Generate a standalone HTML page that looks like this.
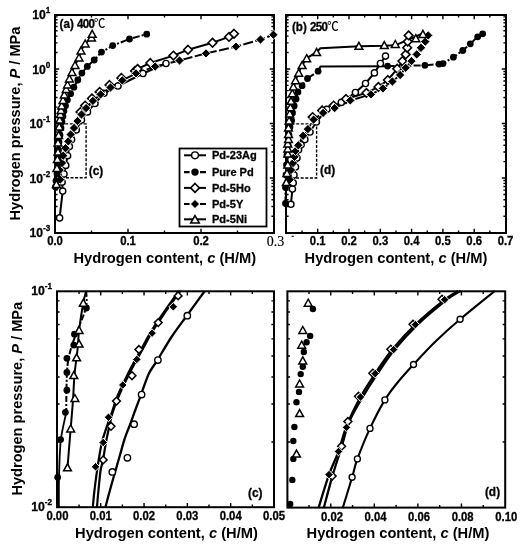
<!DOCTYPE html>
<html><head><meta charset="utf-8"><style>
html,body{margin:0;padding:0;background:#fff;}
svg{display:block;font-family:'Liberation Sans', sans-serif;}
</style></head><body>
<svg width="524" height="550" viewBox="0 0 524 550">
<rect width="524" height="550" fill="#fff"/>
<rect x="55" y="15" width="219.00" height="218.00" fill="none" stroke="#000" stroke-width="2"/>
<rect x="286" y="15" width="220.00" height="218.00" fill="none" stroke="#000" stroke-width="2"/>
<rect x="57" y="291.3" width="217.00" height="215.90" fill="none" stroke="#000" stroke-width="2"/>
<rect x="287.4" y="291.3" width="217.80" height="216.30" fill="none" stroke="#000" stroke-width="2"/>
<path d="M128.00,233v-4.2M128.00,15v4.2M201.00,233v-4.2M201.00,15v4.2M91.50,233v-2.6M91.50,15v2.6M164.50,233v-2.6M164.50,15v2.6M237.50,233v-2.6M237.50,15v2.6M55,216.18h2.6M274,216.18h-2.6M55,206.57h2.6M274,206.57h-2.6M55,199.76h2.6M274,199.76h-2.6M55,194.47h2.6M274,194.47h-2.6M55,190.15h2.6M274,190.15h-2.6M55,186.50h2.6M274,186.50h-2.6M55,183.34h2.6M274,183.34h-2.6M55,180.55h2.6M274,180.55h-2.6M55,178.05h4.2M274,178.05h-4.2M55,161.63h2.6M274,161.63h-2.6M55,152.02h2.6M274,152.02h-2.6M55,145.21h2.6M274,145.21h-2.6M55,139.92h2.6M274,139.92h-2.6M55,135.60h2.6M274,135.60h-2.6M55,131.95h2.6M274,131.95h-2.6M55,128.79h2.6M274,128.79h-2.6M55,126.00h2.6M274,126.00h-2.6M55,123.50h4.2M274,123.50h-4.2M55,107.08h2.6M274,107.08h-2.6M55,97.47h2.6M274,97.47h-2.6M55,90.66h2.6M274,90.66h-2.6M55,85.37h2.6M274,85.37h-2.6M55,81.05h2.6M274,81.05h-2.6M55,77.40h2.6M274,77.40h-2.6M55,74.24h2.6M274,74.24h-2.6M55,71.45h2.6M274,71.45h-2.6M55,68.95h4.2M274,68.95h-4.2M55,52.53h2.6M274,52.53h-2.6M55,42.92h2.6M274,42.92h-2.6M55,36.11h2.6M274,36.11h-2.6M55,30.82h2.6M274,30.82h-2.6M55,26.50h2.6M274,26.50h-2.6M55,22.85h2.6M274,22.85h-2.6M55,19.69h2.6M274,19.69h-2.6M55,16.90h2.6M274,16.90h-2.6" stroke="#000" stroke-width="1.4" fill="none"/>
<path d="M317.70,233v-4.2M317.70,15v4.2M349.00,233v-4.2M349.00,15v4.2M380.30,233v-4.2M380.30,15v4.2M411.60,233v-4.2M411.60,15v4.2M442.90,233v-4.2M442.90,15v4.2M474.20,233v-4.2M474.20,15v4.2M302.05,233v-2.6M302.05,15v2.6M333.35,233v-2.6M333.35,15v2.6M364.65,233v-2.6M364.65,15v2.6M395.95,233v-2.6M395.95,15v2.6M427.25,233v-2.6M427.25,15v2.6M458.55,233v-2.6M458.55,15v2.6M489.85,233v-2.6M489.85,15v2.6M286,216.18h2.6M506,216.18h-2.6M286,206.57h2.6M506,206.57h-2.6M286,199.76h2.6M506,199.76h-2.6M286,194.47h2.6M506,194.47h-2.6M286,190.15h2.6M506,190.15h-2.6M286,186.50h2.6M506,186.50h-2.6M286,183.34h2.6M506,183.34h-2.6M286,180.55h2.6M506,180.55h-2.6M286,178.05h4.2M506,178.05h-4.2M286,161.63h2.6M506,161.63h-2.6M286,152.02h2.6M506,152.02h-2.6M286,145.21h2.6M506,145.21h-2.6M286,139.92h2.6M506,139.92h-2.6M286,135.60h2.6M506,135.60h-2.6M286,131.95h2.6M506,131.95h-2.6M286,128.79h2.6M506,128.79h-2.6M286,126.00h2.6M506,126.00h-2.6M286,123.50h4.2M506,123.50h-4.2M286,107.08h2.6M506,107.08h-2.6M286,97.47h2.6M506,97.47h-2.6M286,90.66h2.6M506,90.66h-2.6M286,85.37h2.6M506,85.37h-2.6M286,81.05h2.6M506,81.05h-2.6M286,77.40h2.6M506,77.40h-2.6M286,74.24h2.6M506,74.24h-2.6M286,71.45h2.6M506,71.45h-2.6M286,68.95h4.2M506,68.95h-4.2M286,52.53h2.6M506,52.53h-2.6M286,42.92h2.6M506,42.92h-2.6M286,36.11h2.6M506,36.11h-2.6M286,30.82h2.6M506,30.82h-2.6M286,26.50h2.6M506,26.50h-2.6M286,22.85h2.6M506,22.85h-2.6M286,19.69h2.6M506,19.69h-2.6M286,16.90h2.6M506,16.90h-2.6" stroke="#000" stroke-width="1.4" fill="none"/>
<path d="M100.72,507.2v-4.2M100.72,291.3v4.2M144.04,507.2v-4.2M144.04,291.3v4.2M187.36,507.2v-4.2M187.36,291.3v4.2M230.68,507.2v-4.2M230.68,291.3v4.2M79.06,507.2v-2.6M79.06,291.3v2.6M122.38,507.2v-2.6M122.38,291.3v2.6M165.70,507.2v-2.6M165.70,291.3v2.6M209.02,507.2v-2.6M209.02,291.3v2.6M252.34,507.2v-2.6M252.34,291.3v2.6M57,441.98h2.6M274,441.98h-2.6M57,403.94h2.6M274,403.94h-2.6M57,376.96h2.6M274,376.96h-2.6M57,356.02h2.6M274,356.02h-2.6M57,338.92h2.6M274,338.92h-2.6M57,324.46h2.6M274,324.46h-2.6M57,311.93h2.6M274,311.93h-2.6M57,300.88h2.6M274,300.88h-2.6" stroke="#000" stroke-width="1.4" fill="none"/>
<path d="M330.76,507.6v-4.2M330.76,291.3v4.2M374.32,507.6v-4.2M374.32,291.3v4.2M417.88,507.6v-4.2M417.88,291.3v4.2M461.44,507.6v-4.2M461.44,291.3v4.2M308.98,507.6v-2.6M308.98,291.3v2.6M352.54,507.6v-2.6M352.54,291.3v2.6M396.10,507.6v-2.6M396.10,291.3v2.6M439.66,507.6v-2.6M439.66,291.3v2.6M483.22,507.6v-2.6M483.22,291.3v2.6M287.4,441.98h2.6M505.2,441.98h-2.6M287.4,403.94h2.6M505.2,403.94h-2.6M287.4,376.96h2.6M505.2,376.96h-2.6M287.4,356.02h2.6M505.2,356.02h-2.6M287.4,338.92h2.6M505.2,338.92h-2.6M287.4,324.46h2.6M505.2,324.46h-2.6M287.4,311.93h2.6M505.2,311.93h-2.6M287.4,300.88h2.6M505.2,300.88h-2.6" stroke="#000" stroke-width="1.4" fill="none"/>
<text transform="translate(55.00,244.60) scale(0.9,1)" font-size="12.6" text-anchor="middle" font-weight="bold" stroke="#000" stroke-width="0.3">0.0</text>
<text transform="translate(128.00,244.60) scale(0.9,1)" font-size="12.6" text-anchor="middle" font-weight="bold" stroke="#000" stroke-width="0.3">0.1</text>
<text transform="translate(201.00,244.60) scale(0.9,1)" font-size="12.6" text-anchor="middle" font-weight="bold" stroke="#000" stroke-width="0.3">0.2</text>
<text x="275.4" y="245.7" font-size="14" text-anchor="middle" font-family="'Liberation Serif', serif" stroke="#000" stroke-width="0.15">0.3</text>
<text transform="translate(317.70,244.60) scale(0.9,1)" font-size="12.6" text-anchor="middle" font-weight="bold" stroke="#000" stroke-width="0.3">0.1</text>
<text transform="translate(349.00,244.60) scale(0.9,1)" font-size="12.6" text-anchor="middle" font-weight="bold" stroke="#000" stroke-width="0.3">0.2</text>
<text transform="translate(380.30,244.60) scale(0.9,1)" font-size="12.6" text-anchor="middle" font-weight="bold" stroke="#000" stroke-width="0.3">0.3</text>
<text transform="translate(411.60,244.60) scale(0.9,1)" font-size="12.6" text-anchor="middle" font-weight="bold" stroke="#000" stroke-width="0.3">0.4</text>
<text transform="translate(442.90,244.60) scale(0.9,1)" font-size="12.6" text-anchor="middle" font-weight="bold" stroke="#000" stroke-width="0.3">0.5</text>
<text transform="translate(474.20,244.60) scale(0.9,1)" font-size="12.6" text-anchor="middle" font-weight="bold" stroke="#000" stroke-width="0.3">0.6</text>
<text transform="translate(505.50,244.60) scale(0.9,1)" font-size="12.6" text-anchor="middle" font-weight="bold" stroke="#000" stroke-width="0.3">0.7</text>
<path d="M291.5,236.3h2.4" stroke="#000" stroke-width="1"/>
<text transform="translate(57.40,520.20) scale(0.9,1)" font-size="12.6" text-anchor="middle" font-weight="bold" stroke="#000" stroke-width="0.3">0.00</text>
<text transform="translate(100.72,520.20) scale(0.9,1)" font-size="12.6" text-anchor="middle" font-weight="bold" stroke="#000" stroke-width="0.3">0.01</text>
<text transform="translate(144.04,520.20) scale(0.9,1)" font-size="12.6" text-anchor="middle" font-weight="bold" stroke="#000" stroke-width="0.3">0.02</text>
<text transform="translate(187.36,520.20) scale(0.9,1)" font-size="12.6" text-anchor="middle" font-weight="bold" stroke="#000" stroke-width="0.3">0.03</text>
<text transform="translate(230.68,520.20) scale(0.9,1)" font-size="12.6" text-anchor="middle" font-weight="bold" stroke="#000" stroke-width="0.3">0.04</text>
<text transform="translate(274.00,520.20) scale(0.9,1)" font-size="12.6" text-anchor="middle" font-weight="bold" stroke="#000" stroke-width="0.3">0.05</text>
<text transform="translate(331.96,520.80) scale(0.9,1)" font-size="12.6" text-anchor="middle" font-weight="bold" stroke="#000" stroke-width="0.3">0.02</text>
<text transform="translate(375.52,520.80) scale(0.9,1)" font-size="12.6" text-anchor="middle" font-weight="bold" stroke="#000" stroke-width="0.3">0.04</text>
<text transform="translate(419.08,520.80) scale(0.9,1)" font-size="12.6" text-anchor="middle" font-weight="bold" stroke="#000" stroke-width="0.3">0.06</text>
<text transform="translate(462.64,520.80) scale(0.9,1)" font-size="12.6" text-anchor="middle" font-weight="bold" stroke="#000" stroke-width="0.3">0.08</text>
<text transform="translate(506.20,520.80) scale(0.9,1)" font-size="12.6" text-anchor="middle" font-weight="bold" stroke="#000" stroke-width="0.3">0.10</text>
<text transform="translate(50.30,237.20) scale(0.97,1)" font-size="12.6" text-anchor="end" font-weight="bold" stroke="#000" stroke-width="0.3">10<tspan font-size="8.4" dy="-6">-3</tspan></text>
<text transform="translate(50.30,182.65) scale(0.97,1)" font-size="12.6" text-anchor="end" font-weight="bold" stroke="#000" stroke-width="0.3">10<tspan font-size="8.4" dy="-6">-2</tspan></text>
<text transform="translate(50.30,128.10) scale(0.97,1)" font-size="12.6" text-anchor="end" font-weight="bold" stroke="#000" stroke-width="0.3">10<tspan font-size="8.4" dy="-6">-1</tspan></text>
<text transform="translate(50.30,73.55) scale(0.97,1)" font-size="12.6" text-anchor="end" font-weight="bold" stroke="#000" stroke-width="0.3">10<tspan font-size="8.4" dy="-6">0</tspan></text>
<text transform="translate(50.30,19.00) scale(0.97,1)" font-size="12.6" text-anchor="end" font-weight="bold" stroke="#000" stroke-width="0.3">10<tspan font-size="8.4" dy="-6">1</tspan></text>
<text transform="translate(52.00,510.80) scale(0.97,1)" font-size="12.6" text-anchor="end" font-weight="bold" stroke="#000" stroke-width="0.3">10<tspan font-size="8.4" dy="-6">-2</tspan></text>
<text transform="translate(52.00,294.80) scale(0.97,1)" font-size="12.6" text-anchor="end" font-weight="bold" stroke="#000" stroke-width="0.3">10<tspan font-size="8.4" dy="-6">-1</tspan></text>
<text x="164.80" y="263.2" font-size="14.7" text-anchor="middle" font-weight="bold">Hydrogen content, <tspan font-style="italic">c</tspan> (H/M)</text>
<text x="396.00" y="263.2" font-size="14.7" text-anchor="middle" font-weight="bold">Hydrogen content, <tspan font-style="italic">c</tspan> (H/M)</text>
<text x="166.50" y="537.7" font-size="14.7" text-anchor="middle" font-weight="bold">Hydrogen content, <tspan font-style="italic">c</tspan> (H/M)</text>
<text x="398.00" y="537.7" font-size="14.7" text-anchor="middle" font-weight="bold">Hydrogen content, <tspan font-style="italic">c</tspan> (H/M)</text>
<text transform="translate(20.2,123.50) rotate(-90)" font-size="14.6" text-anchor="middle" font-weight="bold">Hydrogen pressure, <tspan font-style="italic">P</tspan> / MPa</text>
<text transform="translate(21.5,398.70) rotate(-90)" font-size="14.6" text-anchor="middle" font-weight="bold">Hydrogen pressure, <tspan font-style="italic">P</tspan> / MPa</text>
<text transform="translate(59.60,28.00) scale(0.92,1)" font-size="12.6" text-anchor="start" font-weight="bold" stroke="#000" stroke-width="0.3">(a) <tspan letter-spacing="-0.8">400</tspan><tspan font-family="'Liberation Sans', 'Noto Sans CJK SC', sans-serif" font-weight="500" stroke-width="0" font-size="12.3">℃</tspan></text>
<text transform="translate(292.00,30.50) scale(0.92,1)" font-size="12.6" text-anchor="start" font-weight="bold" stroke="#000" stroke-width="0.3">(b) <tspan letter-spacing="-0.8">250</tspan><tspan font-family="'Liberation Sans', 'Noto Sans CJK SC', sans-serif" font-weight="500" stroke-width="0" font-size="12.3">℃</tspan></text>
<path d="M56,123.9H86.1V177.8H56" fill="none" stroke="#000" stroke-width="1.4" stroke-dasharray="3,1.6"/>
<path d="M287,123.9H316.6V178H287" fill="none" stroke="#000" stroke-width="1.4" stroke-dasharray="3,1.6"/>
<text transform="translate(96.00,174.50) scale(0.95,1)" font-size="12.5" text-anchor="middle" font-weight="bold" stroke="#000" stroke-width="0.3">(c)</text>
<text transform="translate(327.70,174.00) scale(0.95,1)" font-size="12.5" text-anchor="middle" font-weight="bold" stroke="#000" stroke-width="0.3">(d)</text>
<text transform="translate(255.30,496.50) scale(0.95,1)" font-size="12.5" text-anchor="middle" font-weight="bold" stroke="#000" stroke-width="0.3">(c)</text>
<text transform="translate(492.50,495.50) scale(0.95,1)" font-size="12.5" text-anchor="middle" font-weight="bold" stroke="#000" stroke-width="0.3">(d)</text>
<polyline points="59.6,217.9 62.7,191.1 62.1,182.2 64.0,174.0 65.8,165.4 67.6,155.7 69.4,146.5 71.6,139.6 76.3,129.9 81.5,120.0 87.5,111.9 95.0,103.5 104.0,93.3 118.0,86.0 143.0,73.5 166.0,63.5" fill="none" stroke="#000" stroke-width="2" stroke-linejoin="round"/>
<polyline points="135.0,70.9 137.6,68.9 150.3,63.0 173.4,55.6 188.0,49.8 212.5,42.7 229.0,36.9 234.0,33.8" fill="none" stroke="#000" stroke-width="2" stroke-linejoin="round"/>
<polyline points="60.2,179.6 59.7,170.0 62.0,163.0 63.2,155.7 65.5,148.2 68.3,141.3 70.6,134.5 74.0,128.0 77.5,121.0 81.5,114.5 86.1,108.1 92.9,100.9 100.6,94.4 110.5,87.5 122.3,80.4 136.0,73.4 155.2,66.5 179.5,60.5 206.0,53.4 236.0,46.6 260.5,39.5 273.4,34.7" fill="none" stroke="#000" stroke-width="2" stroke-linejoin="round" stroke-dasharray="10,2.5"/>
<polyline points="55.5,187.0 56.0,181.0 57.0,174.0 57.5,166.0 58.0,158.0 58.5,150.0 59.0,142.0 60.0,135.0 61.0,128.0 62.0,122.0 62.9,116.5 63.9,111.1 65.5,105.8 67.4,100.0 70.6,93.7 73.9,87.2 77.8,80.0 81.9,73.1 87.3,66.4 94.2,60.0 101.5,52.1 112.7,45.6 129.5,39.0 146.7,34.2" fill="none" stroke="#000" stroke-width="2" stroke-linejoin="round" stroke-dasharray="7,2,2,2"/>
<polyline points="56.4,184.0 56.9,168.0 57.4,159.0 58.0,151.6 58.0,142.5 58.6,135.0 59.2,126.5 59.7,119.6 60.3,114.0 61.0,110.0 61.7,105.5 63.0,100.0 64.3,94.5 66.2,89.0 67.5,84.5 69.4,78.5 72.0,72.0 75.0,65.0 79.0,57.5 81.0,50.5 85.2,43.5 91.5,37.5 92.2,33.8" fill="none" stroke="#000" stroke-width="2" stroke-linejoin="round"/>
<circle cx="59.6" cy="217.9" r="3.1" fill="#fff" stroke="#000" stroke-width="1.4"/><circle cx="62.7" cy="191.1" r="3.1" fill="#fff" stroke="#000" stroke-width="1.4"/><circle cx="62.1" cy="182.2" r="3.1" fill="#fff" stroke="#000" stroke-width="1.4"/><circle cx="64.0" cy="174.0" r="3.1" fill="#fff" stroke="#000" stroke-width="1.4"/><circle cx="65.8" cy="165.4" r="3.1" fill="#fff" stroke="#000" stroke-width="1.4"/><circle cx="67.6" cy="155.7" r="3.1" fill="#fff" stroke="#000" stroke-width="1.4"/><circle cx="69.4" cy="146.5" r="3.1" fill="#fff" stroke="#000" stroke-width="1.4"/><circle cx="71.6" cy="139.6" r="3.1" fill="#fff" stroke="#000" stroke-width="1.4"/><circle cx="76.3" cy="129.9" r="3.1" fill="#fff" stroke="#000" stroke-width="1.4"/><circle cx="81.5" cy="120.0" r="3.1" fill="#fff" stroke="#000" stroke-width="1.4"/><circle cx="87.5" cy="111.9" r="3.1" fill="#fff" stroke="#000" stroke-width="1.4"/><circle cx="95.0" cy="103.5" r="3.1" fill="#fff" stroke="#000" stroke-width="1.4"/><circle cx="104.0" cy="93.3" r="3.1" fill="#fff" stroke="#000" stroke-width="1.4"/><circle cx="118.0" cy="86.0" r="3.1" fill="#fff" stroke="#000" stroke-width="1.4"/><circle cx="143.0" cy="73.5" r="3.1" fill="#fff" stroke="#000" stroke-width="1.4"/><circle cx="166.0" cy="63.5" r="3.1" fill="#fff" stroke="#000" stroke-width="1.4"/>
<path d="M80.5,107.7L84.8,112.0L80.5,116.3L76.2,112.0Z" fill="#fff" stroke="#000" stroke-width="1.6"/><path d="M85.1,101.3L89.4,105.6L85.1,109.9L80.8,105.6Z" fill="#fff" stroke="#000" stroke-width="1.6"/><path d="M91.9,94.1L96.2,98.4L91.9,102.7L87.6,98.4Z" fill="#fff" stroke="#000" stroke-width="1.6"/><path d="M99.6,87.6L103.9,91.9L99.6,96.2L95.3,91.9Z" fill="#fff" stroke="#000" stroke-width="1.6"/><path d="M109.5,80.7L113.8,85.0L109.5,89.3L105.2,85.0Z" fill="#fff" stroke="#000" stroke-width="1.6"/><path d="M121.3,73.6L125.6,77.9L121.3,82.2L117.0,77.9Z" fill="#fff" stroke="#000" stroke-width="1.6"/><path d="M135.0,66.6L139.3,70.9L135.0,75.2L130.7,70.9Z" fill="#fff" stroke="#000" stroke-width="1.6"/><path d="M137.6,64.6L141.9,68.9L137.6,73.2L133.3,68.9Z" fill="#fff" stroke="#000" stroke-width="1.6"/><path d="M150.3,58.7L154.6,63.0L150.3,67.3L146.0,63.0Z" fill="#fff" stroke="#000" stroke-width="1.6"/><path d="M173.4,51.3L177.7,55.6L173.4,59.9L169.1,55.6Z" fill="#fff" stroke="#000" stroke-width="1.6"/><path d="M188.0,45.5L192.3,49.8L188.0,54.1L183.7,49.8Z" fill="#fff" stroke="#000" stroke-width="1.6"/><path d="M212.5,38.4L216.8,42.7L212.5,47.0L208.2,42.7Z" fill="#fff" stroke="#000" stroke-width="1.6"/><path d="M229.0,32.6L233.3,36.9L229.0,41.2L224.7,36.9Z" fill="#fff" stroke="#000" stroke-width="1.6"/><path d="M234.0,29.5L238.3,33.8L234.0,38.1L229.7,33.8Z" fill="#fff" stroke="#000" stroke-width="1.6"/>
<path d="M60.2,174.9L64.9,179.6L60.2,184.3L55.5,179.6Z" fill="#000" stroke="#fff" stroke-width="1.0"/><path d="M59.7,165.3L64.4,170.0L59.7,174.7L55.0,170.0Z" fill="#000" stroke="#fff" stroke-width="1.0"/><path d="M62.0,158.3L66.7,163.0L62.0,167.7L57.3,163.0Z" fill="#000" stroke="#fff" stroke-width="1.0"/><path d="M63.2,151.0L67.9,155.7L63.2,160.4L58.5,155.7Z" fill="#000" stroke="#fff" stroke-width="1.0"/><path d="M65.5,143.5L70.2,148.2L65.5,152.9L60.8,148.2Z" fill="#000" stroke="#fff" stroke-width="1.0"/><path d="M68.3,136.6L73.0,141.3L68.3,146.0L63.6,141.3Z" fill="#000" stroke="#fff" stroke-width="1.0"/><path d="M70.6,129.8L75.3,134.5L70.6,139.2L65.9,134.5Z" fill="#000" stroke="#fff" stroke-width="1.0"/><path d="M74.0,123.3L78.7,128.0L74.0,132.7L69.3,128.0Z" fill="#000" stroke="#fff" stroke-width="1.0"/><path d="M77.5,116.3L82.2,121.0L77.5,125.7L72.8,121.0Z" fill="#000" stroke="#fff" stroke-width="1.0"/><path d="M81.5,109.8L86.2,114.5L81.5,119.2L76.8,114.5Z" fill="#000" stroke="#fff" stroke-width="1.0"/><path d="M86.1,103.4L90.8,108.1L86.1,112.8L81.4,108.1Z" fill="#000" stroke="#fff" stroke-width="1.0"/><path d="M92.9,96.2L97.6,100.9L92.9,105.6L88.2,100.9Z" fill="#000" stroke="#fff" stroke-width="1.0"/><path d="M100.6,89.7L105.3,94.4L100.6,99.1L95.9,94.4Z" fill="#000" stroke="#fff" stroke-width="1.0"/><path d="M110.5,82.8L115.2,87.5L110.5,92.2L105.8,87.5Z" fill="#000" stroke="#fff" stroke-width="1.0"/><path d="M122.3,75.7L127.0,80.4L122.3,85.1L117.6,80.4Z" fill="#000" stroke="#fff" stroke-width="1.0"/><path d="M136.0,68.7L140.7,73.4L136.0,78.1L131.3,73.4Z" fill="#000" stroke="#fff" stroke-width="1.0"/><path d="M155.2,61.8L159.9,66.5L155.2,71.2L150.5,66.5Z" fill="#000" stroke="#fff" stroke-width="1.0"/><path d="M179.5,55.8L184.2,60.5L179.5,65.2L174.8,60.5Z" fill="#000" stroke="#fff" stroke-width="1.0"/><path d="M206.0,48.7L210.7,53.4L206.0,58.1L201.3,53.4Z" fill="#000" stroke="#fff" stroke-width="1.0"/><path d="M236.0,41.9L240.7,46.6L236.0,51.3L231.3,46.6Z" fill="#000" stroke="#fff" stroke-width="1.0"/><path d="M260.5,34.8L265.2,39.5L260.5,44.2L255.8,39.5Z" fill="#000" stroke="#fff" stroke-width="1.0"/><path d="M273.4,30.0L278.1,34.7L273.4,39.4L268.7,34.7Z" fill="#000" stroke="#fff" stroke-width="1.0"/>
<circle cx="55.5" cy="187.0" r="3.4" fill="#000"/><circle cx="56.0" cy="181.0" r="3.4" fill="#000"/><circle cx="57.0" cy="174.0" r="3.4" fill="#000"/><circle cx="57.5" cy="166.0" r="3.4" fill="#000"/><circle cx="58.0" cy="158.0" r="3.4" fill="#000"/><circle cx="58.5" cy="150.0" r="3.4" fill="#000"/><circle cx="59.0" cy="142.0" r="3.4" fill="#000"/><circle cx="60.0" cy="135.0" r="3.4" fill="#000"/><circle cx="61.0" cy="128.0" r="3.4" fill="#000"/><circle cx="62.0" cy="122.0" r="3.4" fill="#000"/><circle cx="62.9" cy="116.5" r="3.4" fill="#000"/><circle cx="63.9" cy="111.1" r="3.4" fill="#000"/><circle cx="65.5" cy="105.8" r="3.4" fill="#000"/><circle cx="67.4" cy="100.0" r="3.4" fill="#000"/><circle cx="70.6" cy="93.7" r="3.4" fill="#000"/><circle cx="73.9" cy="87.2" r="3.4" fill="#000"/><circle cx="77.8" cy="80.0" r="3.4" fill="#000"/><circle cx="81.9" cy="73.1" r="3.4" fill="#000"/><circle cx="87.3" cy="66.4" r="3.4" fill="#000"/><circle cx="94.2" cy="60.0" r="3.4" fill="#000"/><circle cx="101.5" cy="52.1" r="3.4" fill="#000"/><circle cx="112.7" cy="45.6" r="3.4" fill="#000"/><circle cx="129.5" cy="39.0" r="3.4" fill="#000"/><circle cx="146.7" cy="34.2" r="3.4" fill="#000"/>
<path d="M56.4,180.5L60.3,187.5L52.5,187.5Z" fill="#fff" stroke="#000" stroke-width="1.5" stroke-linejoin="miter"/><path d="M56.9,164.5L60.8,171.5L53.0,171.5Z" fill="#fff" stroke="#000" stroke-width="1.5" stroke-linejoin="miter"/><path d="M57.4,155.5L61.3,162.5L53.5,162.5Z" fill="#fff" stroke="#000" stroke-width="1.5" stroke-linejoin="miter"/><path d="M58.0,148.1L61.9,155.1L54.1,155.1Z" fill="#fff" stroke="#000" stroke-width="1.5" stroke-linejoin="miter"/><path d="M58.0,139.0L61.9,146.0L54.1,146.0Z" fill="#fff" stroke="#000" stroke-width="1.5" stroke-linejoin="miter"/><path d="M58.6,131.5L62.5,138.5L54.7,138.5Z" fill="#fff" stroke="#000" stroke-width="1.5" stroke-linejoin="miter"/><path d="M59.2,123.0L63.1,130.0L55.3,130.0Z" fill="#fff" stroke="#000" stroke-width="1.5" stroke-linejoin="miter"/><path d="M59.7,116.1L63.6,123.1L55.8,123.1Z" fill="#fff" stroke="#000" stroke-width="1.5" stroke-linejoin="miter"/><path d="M60.3,110.5L64.2,117.5L56.4,117.5Z" fill="#fff" stroke="#000" stroke-width="1.5" stroke-linejoin="miter"/><path d="M61.0,106.5L64.9,113.5L57.1,113.5Z" fill="#fff" stroke="#000" stroke-width="1.5" stroke-linejoin="miter"/><path d="M61.7,102.0L65.6,109.0L57.8,109.0Z" fill="#fff" stroke="#000" stroke-width="1.5" stroke-linejoin="miter"/><path d="M63.0,96.5L66.9,103.5L59.1,103.5Z" fill="#fff" stroke="#000" stroke-width="1.5" stroke-linejoin="miter"/><path d="M64.3,91.0L68.2,98.0L60.4,98.0Z" fill="#fff" stroke="#000" stroke-width="1.5" stroke-linejoin="miter"/><path d="M66.2,85.5L70.1,92.5L62.3,92.5Z" fill="#fff" stroke="#000" stroke-width="1.5" stroke-linejoin="miter"/><path d="M67.5,81.0L71.4,88.0L63.6,88.0Z" fill="#fff" stroke="#000" stroke-width="1.5" stroke-linejoin="miter"/><path d="M69.4,75.0L73.3,82.0L65.5,82.0Z" fill="#fff" stroke="#000" stroke-width="1.5" stroke-linejoin="miter"/><path d="M72.0,68.5L75.9,75.5L68.1,75.5Z" fill="#fff" stroke="#000" stroke-width="1.5" stroke-linejoin="miter"/><path d="M75.0,61.5L78.9,68.5L71.1,68.5Z" fill="#fff" stroke="#000" stroke-width="1.5" stroke-linejoin="miter"/><path d="M79.0,54.0L82.9,61.0L75.1,61.0Z" fill="#fff" stroke="#000" stroke-width="1.5" stroke-linejoin="miter"/><path d="M81.0,47.0L84.9,54.0L77.1,54.0Z" fill="#fff" stroke="#000" stroke-width="1.5" stroke-linejoin="miter"/><path d="M85.2,40.0L89.1,47.0L81.3,47.0Z" fill="#fff" stroke="#000" stroke-width="1.5" stroke-linejoin="miter"/><path d="M91.5,34.0L95.4,41.0L87.6,41.0Z" fill="#fff" stroke="#000" stroke-width="1.5" stroke-linejoin="miter"/><path d="M92.2,30.3L96.1,37.3L88.3,37.3Z" fill="#fff" stroke="#000" stroke-width="1.5" stroke-linejoin="miter"/>
<polyline points="290.9,204.3 292.4,189.0 293.2,182.9 294.0,175.0 295.5,167.0 297.0,158.0 298.6,149.8 301.1,144.7 304.9,139.6 310.0,132.0 316.4,122.0 326.9,109.3 341.3,102.4 355.4,92.5 365.5,83.5 374.4,72.9 380.4,63.5 385.5,56.1" fill="none" stroke="#000" stroke-width="2" stroke-linejoin="round"/>
<polyline points="346.0,99.0 366.4,92.9 378.4,86.9 387.9,80.0 397.2,68.8 402.4,61.1 405.7,54.4 407.2,47.8 407.7,41.6 408.6,35.4" fill="none" stroke="#000" stroke-width="2" stroke-linejoin="round"/>
<polyline points="289.7,179.7 291.0,170.0 293.0,163.0 294.5,156.8 295.5,151.0 298.3,145.3 303.1,135.8 307.9,129.1 313.6,119.6 323.1,112.9 334.6,108.1 350.3,100.4 370.9,94.4 382.9,88.4 392.4,81.5 400.1,75.0 405.7,67.8 411.5,61.1 416.7,54.4 421.0,47.8 425.3,41.6 428.2,35.4" fill="none" stroke="#000" stroke-width="2" stroke-linejoin="round" stroke-dasharray="10,2.5"/>
<polyline points="285.5,203.5 285.5,187.5 286.0,175.0 286.5,165.0 287.0,155.0 288.0,145.0 289.0,135.0 290.0,127.0 291.6,120.5 292.5,113.0 294.2,105.9 296.1,98.9 298.0,91.9 302.1,85.7 307.5,78.5 318.1,71.2" fill="none" stroke="#000" stroke-width="2" stroke-linejoin="round" stroke-dasharray="7,2,2,2"/>
<polyline points="318.1,71.2 320.4,66.6 387.6,66.3" fill="none" stroke="#000" stroke-width="2" stroke-linejoin="round"/>
<polyline points="387.6,66.1 424.9,65.3 439.0,64.1 443.0,63.6 453.4,57.2 462.8,50.5 470.3,43.8 477.7,36.8 482.7,33.8" fill="none" stroke="#000" stroke-width="2" stroke-linejoin="round" stroke-dasharray="7,2,2,2"/>
<polyline points="286.3,182.1 287.8,153.6 288.5,127.5 290.4,107.2 292.3,93.2 295.5,80.2 298.7,72.7 302.1,65.1 306.7,58.2 316.6,52.1 320.4,48.3 359.6,46.3 384.0,45.8 395.1,45.3 414.9,36.8 422.4,33.8" fill="none" stroke="#000" stroke-width="2" stroke-linejoin="round"/>
<circle cx="290.9" cy="204.3" r="3.1" fill="#fff" stroke="#000" stroke-width="1.4"/><circle cx="292.4" cy="189.0" r="3.1" fill="#fff" stroke="#000" stroke-width="1.4"/><circle cx="293.2" cy="182.9" r="3.1" fill="#fff" stroke="#000" stroke-width="1.4"/><circle cx="294.0" cy="175.0" r="3.1" fill="#fff" stroke="#000" stroke-width="1.4"/><circle cx="295.5" cy="167.0" r="3.1" fill="#fff" stroke="#000" stroke-width="1.4"/><circle cx="297.0" cy="158.0" r="3.1" fill="#fff" stroke="#000" stroke-width="1.4"/><circle cx="298.6" cy="149.8" r="3.1" fill="#fff" stroke="#000" stroke-width="1.4"/><circle cx="301.1" cy="144.7" r="3.1" fill="#fff" stroke="#000" stroke-width="1.4"/><circle cx="304.9" cy="139.6" r="3.1" fill="#fff" stroke="#000" stroke-width="1.4"/><circle cx="310.0" cy="132.0" r="3.1" fill="#fff" stroke="#000" stroke-width="1.4"/><circle cx="316.4" cy="122.0" r="3.1" fill="#fff" stroke="#000" stroke-width="1.4"/><circle cx="326.9" cy="109.3" r="3.1" fill="#fff" stroke="#000" stroke-width="1.4"/><circle cx="341.3" cy="102.4" r="3.1" fill="#fff" stroke="#000" stroke-width="1.4"/><circle cx="355.4" cy="92.5" r="3.1" fill="#fff" stroke="#000" stroke-width="1.4"/><circle cx="365.5" cy="83.5" r="3.1" fill="#fff" stroke="#000" stroke-width="1.4"/><circle cx="374.4" cy="72.9" r="3.1" fill="#fff" stroke="#000" stroke-width="1.4"/><circle cx="380.4" cy="63.5" r="3.1" fill="#fff" stroke="#000" stroke-width="1.4"/><circle cx="385.5" cy="56.1" r="3.1" fill="#fff" stroke="#000" stroke-width="1.4"/>
<path d="M312.6,112.8L316.9,117.1L312.6,121.4L308.3,117.1Z" fill="#fff" stroke="#000" stroke-width="1.6"/><path d="M322.1,106.1L326.4,110.4L322.1,114.7L317.8,110.4Z" fill="#fff" stroke="#000" stroke-width="1.6"/><path d="M333.6,101.3L337.9,105.6L333.6,109.9L329.3,105.6Z" fill="#fff" stroke="#000" stroke-width="1.6"/><path d="M346.0,94.7L350.3,99.0L346.0,103.3L341.7,99.0Z" fill="#fff" stroke="#000" stroke-width="1.6"/><path d="M366.4,88.6L370.7,92.9L366.4,97.2L362.1,92.9Z" fill="#fff" stroke="#000" stroke-width="1.6"/><path d="M378.4,82.6L382.7,86.9L378.4,91.2L374.1,86.9Z" fill="#fff" stroke="#000" stroke-width="1.6"/><path d="M387.9,75.7L392.2,80.0L387.9,84.3L383.6,80.0Z" fill="#fff" stroke="#000" stroke-width="1.6"/><path d="M397.2,64.5L401.5,68.8L397.2,73.1L392.9,68.8Z" fill="#fff" stroke="#000" stroke-width="1.6"/><path d="M402.4,56.8L406.7,61.1L402.4,65.4L398.1,61.1Z" fill="#fff" stroke="#000" stroke-width="1.6"/><path d="M405.7,50.1L410.0,54.4L405.7,58.7L401.4,54.4Z" fill="#fff" stroke="#000" stroke-width="1.6"/><path d="M407.2,43.5L411.5,47.8L407.2,52.1L402.9,47.8Z" fill="#fff" stroke="#000" stroke-width="1.6"/><path d="M407.7,37.3L412.0,41.6L407.7,45.9L403.4,41.6Z" fill="#fff" stroke="#000" stroke-width="1.6"/><path d="M408.6,31.1L412.9,35.4L408.6,39.7L404.3,35.4Z" fill="#fff" stroke="#000" stroke-width="1.6"/>
<path d="M289.7,175.0L294.4,179.7L289.7,184.4L285.0,179.7Z" fill="#000" stroke="#fff" stroke-width="1.0"/><path d="M291.0,165.3L295.7,170.0L291.0,174.7L286.3,170.0Z" fill="#000" stroke="#fff" stroke-width="1.0"/><path d="M293.0,158.3L297.7,163.0L293.0,167.7L288.3,163.0Z" fill="#000" stroke="#fff" stroke-width="1.0"/><path d="M294.5,152.1L299.2,156.8L294.5,161.5L289.8,156.8Z" fill="#000" stroke="#fff" stroke-width="1.0"/><path d="M295.5,146.3L300.2,151.0L295.5,155.7L290.8,151.0Z" fill="#000" stroke="#fff" stroke-width="1.0"/><path d="M298.3,140.6L303.0,145.3L298.3,150.0L293.6,145.3Z" fill="#000" stroke="#fff" stroke-width="1.0"/><path d="M303.1,131.1L307.8,135.8L303.1,140.5L298.4,135.8Z" fill="#000" stroke="#fff" stroke-width="1.0"/><path d="M307.9,124.4L312.6,129.1L307.9,133.8L303.2,129.1Z" fill="#000" stroke="#fff" stroke-width="1.0"/><path d="M313.6,114.9L318.3,119.6L313.6,124.3L308.9,119.6Z" fill="#000" stroke="#fff" stroke-width="1.0"/><path d="M323.1,108.2L327.8,112.9L323.1,117.6L318.4,112.9Z" fill="#000" stroke="#fff" stroke-width="1.0"/><path d="M334.6,103.4L339.3,108.1L334.6,112.8L329.9,108.1Z" fill="#000" stroke="#fff" stroke-width="1.0"/><path d="M350.3,95.7L355.0,100.4L350.3,105.1L345.6,100.4Z" fill="#000" stroke="#fff" stroke-width="1.0"/><path d="M370.9,89.7L375.6,94.4L370.9,99.1L366.2,94.4Z" fill="#000" stroke="#fff" stroke-width="1.0"/><path d="M382.9,83.7L387.6,88.4L382.9,93.1L378.2,88.4Z" fill="#000" stroke="#fff" stroke-width="1.0"/><path d="M392.4,76.8L397.1,81.5L392.4,86.2L387.7,81.5Z" fill="#000" stroke="#fff" stroke-width="1.0"/><path d="M400.1,70.3L404.8,75.0L400.1,79.7L395.4,75.0Z" fill="#000" stroke="#fff" stroke-width="1.0"/><path d="M405.7,63.1L410.4,67.8L405.7,72.5L401.0,67.8Z" fill="#000" stroke="#fff" stroke-width="1.0"/><path d="M411.5,56.4L416.2,61.1L411.5,65.8L406.8,61.1Z" fill="#000" stroke="#fff" stroke-width="1.0"/><path d="M416.7,49.7L421.4,54.4L416.7,59.1L412.0,54.4Z" fill="#000" stroke="#fff" stroke-width="1.0"/><path d="M421.0,43.1L425.7,47.8L421.0,52.5L416.3,47.8Z" fill="#000" stroke="#fff" stroke-width="1.0"/><path d="M425.3,36.9L430.0,41.6L425.3,46.3L420.6,41.6Z" fill="#000" stroke="#fff" stroke-width="1.0"/><path d="M428.2,30.7L432.9,35.4L428.2,40.1L423.5,35.4Z" fill="#000" stroke="#fff" stroke-width="1.0"/>
<circle cx="285.5" cy="203.5" r="3.4" fill="#000"/><circle cx="285.5" cy="187.5" r="3.4" fill="#000"/><circle cx="286.0" cy="175.0" r="3.4" fill="#000"/><circle cx="286.5" cy="165.0" r="3.4" fill="#000"/><circle cx="287.0" cy="155.0" r="3.4" fill="#000"/><circle cx="288.0" cy="145.0" r="3.4" fill="#000"/><circle cx="289.0" cy="135.0" r="3.4" fill="#000"/><circle cx="290.0" cy="127.0" r="3.4" fill="#000"/><circle cx="291.6" cy="120.5" r="3.4" fill="#000"/><circle cx="292.5" cy="113.0" r="3.4" fill="#000"/><circle cx="294.2" cy="105.9" r="3.4" fill="#000"/><circle cx="296.1" cy="98.9" r="3.4" fill="#000"/><circle cx="298.0" cy="91.9" r="3.4" fill="#000"/><circle cx="302.1" cy="85.7" r="3.4" fill="#000"/><circle cx="307.5" cy="78.5" r="3.4" fill="#000"/><circle cx="318.1" cy="71.2" r="3.4" fill="#000"/><circle cx="387.6" cy="66.1" r="3.4" fill="#000"/><circle cx="424.9" cy="65.3" r="3.4" fill="#000"/><circle cx="439.0" cy="64.1" r="3.4" fill="#000"/><circle cx="443.0" cy="63.6" r="3.4" fill="#000"/><circle cx="453.4" cy="57.2" r="3.4" fill="#000"/><circle cx="462.8" cy="50.5" r="3.4" fill="#000"/><circle cx="470.3" cy="43.8" r="3.4" fill="#000"/><circle cx="477.7" cy="36.8" r="3.4" fill="#000"/><circle cx="482.7" cy="33.8" r="3.4" fill="#000"/>
<path d="M286.3,178.6L290.2,185.6L282.4,185.6Z" fill="#fff" stroke="#000" stroke-width="1.5" stroke-linejoin="miter"/><path d="M287.0,169.5L290.9,176.5L283.1,176.5Z" fill="#fff" stroke="#000" stroke-width="1.5" stroke-linejoin="miter"/><path d="M287.8,161.0L291.7,168.0L283.9,168.0Z" fill="#fff" stroke="#000" stroke-width="1.5" stroke-linejoin="miter"/><path d="M287.8,150.1L291.7,157.1L283.9,157.1Z" fill="#fff" stroke="#000" stroke-width="1.5" stroke-linejoin="miter"/><path d="M287.8,145.0L291.7,152.0L283.9,152.0Z" fill="#fff" stroke="#000" stroke-width="1.5" stroke-linejoin="miter"/><path d="M287.8,139.9L291.7,146.9L283.9,146.9Z" fill="#fff" stroke="#000" stroke-width="1.5" stroke-linejoin="miter"/><path d="M288.5,135.5L292.4,142.5L284.6,142.5Z" fill="#fff" stroke="#000" stroke-width="1.5" stroke-linejoin="miter"/><path d="M288.5,130.4L292.4,137.4L284.6,137.4Z" fill="#fff" stroke="#000" stroke-width="1.5" stroke-linejoin="miter"/><path d="M288.5,124.0L292.4,131.0L284.6,131.0Z" fill="#fff" stroke="#000" stroke-width="1.5" stroke-linejoin="miter"/><path d="M289.1,117.0L293.0,124.0L285.2,124.0Z" fill="#fff" stroke="#000" stroke-width="1.5" stroke-linejoin="miter"/><path d="M289.7,110.0L293.6,117.0L285.8,117.0Z" fill="#fff" stroke="#000" stroke-width="1.5" stroke-linejoin="miter"/><path d="M290.4,103.7L294.3,110.7L286.5,110.7Z" fill="#fff" stroke="#000" stroke-width="1.5" stroke-linejoin="miter"/><path d="M291.0,97.3L294.9,104.3L287.1,104.3Z" fill="#fff" stroke="#000" stroke-width="1.5" stroke-linejoin="miter"/><path d="M292.3,89.7L296.2,96.7L288.4,96.7Z" fill="#fff" stroke="#000" stroke-width="1.5" stroke-linejoin="miter"/><path d="M293.4,83.0L297.3,90.0L289.5,90.0Z" fill="#fff" stroke="#000" stroke-width="1.5" stroke-linejoin="miter"/><path d="M295.5,76.7L299.4,83.7L291.6,83.7Z" fill="#fff" stroke="#000" stroke-width="1.5" stroke-linejoin="miter"/><path d="M298.7,69.2L302.6,76.2L294.8,76.2Z" fill="#fff" stroke="#000" stroke-width="1.5" stroke-linejoin="miter"/><path d="M302.1,61.6L306.0,68.6L298.2,68.6Z" fill="#fff" stroke="#000" stroke-width="1.5" stroke-linejoin="miter"/><path d="M306.7,54.7L310.6,61.7L302.8,61.7Z" fill="#fff" stroke="#000" stroke-width="1.5" stroke-linejoin="miter"/><path d="M316.6,48.6L320.5,55.6L312.7,55.6Z" fill="#fff" stroke="#000" stroke-width="1.5" stroke-linejoin="miter"/><path d="M358.9,42.3L362.8,49.3L355.0,49.3Z" fill="#fff" stroke="#000" stroke-width="1.5" stroke-linejoin="miter"/><path d="M384.3,41.6L388.2,48.6L380.4,48.6Z" fill="#fff" stroke="#000" stroke-width="1.5" stroke-linejoin="miter"/><path d="M395.3,40.5L399.2,47.5L391.4,47.5Z" fill="#fff" stroke="#000" stroke-width="1.5" stroke-linejoin="miter"/><path d="M415.8,34.7L419.7,41.7L411.9,41.7Z" fill="#fff" stroke="#000" stroke-width="1.5" stroke-linejoin="miter"/><path d="M422.9,30.4L426.8,37.4L419.0,37.4Z" fill="#fff" stroke="#000" stroke-width="1.5" stroke-linejoin="miter"/>
<path d="M204.8,291.0 C201.8,295.1 192.4,308.0 186.8,315.7 C181.2,323.4 176.4,329.6 171.5,337.0 C166.6,344.4 161.1,354.1 157.3,360.3 C153.5,366.5 151.4,368.2 148.7,374.0 C146.0,379.8 143.2,388.8 141.0,394.8 C138.8,400.8 137.1,405.1 135.3,410.0 C133.5,414.9 132.1,419.2 130.3,424.0 C128.5,428.8 126.4,433.5 124.7,438.7 C123.0,443.9 121.6,449.4 120.0,455.0 C118.4,460.6 116.8,466.2 115.1,472.0 C113.4,477.8 111.6,484.2 110.0,490.0 C108.4,495.8 106.2,504.2 105.5,507.0" fill="none" stroke="#000" stroke-width="2.3"/>
<path d="M178.8,291.0 C176.4,294.4 168.9,304.8 164.3,311.5 C159.7,318.2 155.2,324.6 151.3,331.0 C147.4,337.4 144.4,343.5 140.8,350.0 C137.2,356.5 133.7,362.4 129.8,370.0 C126.0,377.6 120.7,388.4 117.7,395.4 C114.7,402.4 113.8,406.9 112.0,412.0 C110.2,417.1 108.6,421.3 107.0,426.0 C105.4,430.7 103.8,435.2 102.5,440.0 C101.2,444.8 100.4,449.8 99.5,455.0 C98.6,460.2 97.8,465.2 97.0,471.0 C96.2,476.8 95.2,484.0 94.5,490.0 C93.8,496.0 93.1,504.2 92.8,507.0" fill="none" stroke="#000" stroke-width="2.2"/>
<path d="M180.2,291.0 C177.8,294.4 170.3,304.8 165.7,311.5 C161.1,318.2 156.6,324.6 152.7,331.0 C148.8,337.4 145.8,343.5 142.2,350.0 C138.6,356.5 135.0,362.4 131.2,370.0 C127.3,377.6 122.2,388.2 119.1,395.4 C116.0,402.6 114.3,407.2 112.5,413.0 C110.7,418.8 109.7,424.7 108.5,430.0 C107.3,435.3 106.4,440.0 105.5,445.0 C104.6,450.0 103.8,455.7 103.0,460.0 C102.2,464.3 101.2,466.0 100.5,471.0 C99.8,476.0 99.1,484.0 98.5,490.0 C97.9,496.0 97.2,504.2 97.0,507.0" fill="none" stroke="#000" stroke-width="2.2"/>
<path d="M86.2,291.0 C86.1,293.8 87.5,300.8 85.8,308.0 C84.1,315.2 78.6,326.7 76.0,334.0 C73.4,341.3 71.5,345.7 70.0,352.0 C68.5,358.3 67.6,361.9 67.0,372.0 C66.4,382.1 66.3,406.0 66.2,412.8" fill="none" stroke="#000" stroke-width="2" stroke-dasharray="6,2,2,2"/>
<path d="M66.2,412.8 C65.3,417.2 62.1,429.8 60.9,439.3 C59.7,448.8 59.5,462.8 59.2,470.0 C58.9,477.2 59.0,476.3 58.9,482.5 C58.8,488.7 58.9,502.9 58.9,507.0" fill="none" stroke="#000" stroke-width="1.8"/>
<path d="M86.2,291.0 C85.7,292.9 84.5,296.2 83.3,302.7 C82.1,309.2 80.1,322.1 79.1,330.0 C78.1,337.9 78.3,342.5 77.5,350.0 C76.7,357.5 75.2,366.7 74.5,375.0 C73.8,383.3 73.6,391.1 73.0,400.0 C72.4,408.9 71.6,417.2 70.7,428.4 C69.8,439.6 68.0,460.8 67.5,467.3" fill="none" stroke="#000" stroke-width="2"/>
<circle cx="187.3" cy="315.7" r="3.2" fill="#fff" stroke="#000" stroke-width="1.4"/><circle cx="157.9" cy="360.1" r="3.2" fill="#fff" stroke="#000" stroke-width="1.4"/><circle cx="141.6" cy="394.6" r="3.2" fill="#fff" stroke="#000" stroke-width="1.4"/><circle cx="134.1" cy="424.2" r="3.2" fill="#fff" stroke="#000" stroke-width="1.4"/><circle cx="127.4" cy="457.8" r="3.2" fill="#fff" stroke="#000" stroke-width="1.4"/><circle cx="112.3" cy="471.9" r="3.2" fill="#fff" stroke="#000" stroke-width="1.4"/>
<path d="M178.1,292.0L182.0,295.9L178.1,299.8L174.2,295.9Z" fill="#fff" stroke="#000" stroke-width="1.5"/><path d="M158.2,318.7L162.1,322.6L158.2,326.5L154.3,322.6Z" fill="#fff" stroke="#000" stroke-width="1.5"/><path d="M138.9,345.6L142.8,349.5L138.9,353.4L135.0,349.5Z" fill="#fff" stroke="#000" stroke-width="1.5"/><path d="M132.0,371.8L135.9,375.7L132.0,379.6L128.1,375.7Z" fill="#fff" stroke="#000" stroke-width="1.5"/><path d="M116.5,397.2L120.4,401.1L116.5,405.0L112.6,401.1Z" fill="#fff" stroke="#000" stroke-width="1.5"/><path d="M111.0,422.4L114.9,426.3L111.0,430.2L107.1,426.3Z" fill="#fff" stroke="#000" stroke-width="1.5"/><path d="M103.2,456.0L107.1,459.9L103.2,463.8L99.3,459.9Z" fill="#fff" stroke="#000" stroke-width="1.5"/>
<path d="M173.3,302.5L177.6,306.8L173.3,311.1L169.0,306.8Z" fill="#000" stroke="#fff" stroke-width="1.0"/><path d="M152.1,328.8L156.4,333.1L152.1,337.4L147.8,333.1Z" fill="#000" stroke="#fff" stroke-width="1.0"/><path d="M136.8,355.1L141.1,359.4L136.8,363.7L132.5,359.4Z" fill="#000" stroke="#fff" stroke-width="1.0"/><path d="M122.8,380.7L127.1,385.0L122.8,389.3L118.5,385.0Z" fill="#000" stroke="#fff" stroke-width="1.0"/><path d="M108.5,413.0L112.8,417.3L108.5,421.6L104.2,417.3Z" fill="#000" stroke="#fff" stroke-width="1.0"/><path d="M103.2,438.2L107.5,442.5L103.2,446.8L98.9,442.5Z" fill="#000" stroke="#fff" stroke-width="1.0"/><path d="M95.5,462.5L99.8,466.8L95.5,471.1L91.2,466.8Z" fill="#000" stroke="#fff" stroke-width="1.0"/>
<circle cx="86.4" cy="308.0" r="3.4" fill="#000"/><circle cx="74.5" cy="334.2" r="3.4" fill="#000"/><circle cx="73.8" cy="345.1" r="3.4" fill="#000"/><circle cx="66.9" cy="358.3" r="3.4" fill="#000"/><circle cx="66.9" cy="372.4" r="3.4" fill="#000"/><circle cx="66.9" cy="390.2" r="3.4" fill="#000"/><circle cx="65.4" cy="412.3" r="3.4" fill="#000"/><circle cx="60.6" cy="439.6" r="3.4" fill="#000"/><circle cx="57.7" cy="477.3" r="3.4" fill="#000"/>
<path d="M83.3,299.2L87.2,306.2L79.4,306.2Z" fill="#fff" stroke="#000" stroke-width="1.5" stroke-linejoin="miter"/><path d="M79.1,326.5L83.0,333.5L75.2,333.5Z" fill="#fff" stroke="#000" stroke-width="1.5" stroke-linejoin="miter"/><path d="M79.1,340.1L83.0,347.1L75.2,347.1Z" fill="#fff" stroke="#000" stroke-width="1.5" stroke-linejoin="miter"/><path d="M76.6,353.8L80.5,360.8L72.7,360.8Z" fill="#fff" stroke="#000" stroke-width="1.5" stroke-linejoin="miter"/><path d="M73.8,371.6L77.7,378.6L69.9,378.6Z" fill="#fff" stroke="#000" stroke-width="1.5" stroke-linejoin="miter"/><path d="M74.9,394.5L78.8,401.5L71.0,401.5Z" fill="#fff" stroke="#000" stroke-width="1.5" stroke-linejoin="miter"/><path d="M70.7,424.9L74.6,431.9L66.8,431.9Z" fill="#fff" stroke="#000" stroke-width="1.5" stroke-linejoin="miter"/><path d="M67.5,463.8L71.4,470.8L63.6,470.8Z" fill="#fff" stroke="#000" stroke-width="1.5" stroke-linejoin="miter"/>
<path d="M494.8,291.0 C489.0,295.7 469.9,311.0 460.1,319.3 C450.3,327.6 443.8,333.5 436.0,341.0 C428.2,348.5 419.8,357.7 413.5,364.5 C407.2,371.3 402.8,376.1 398.0,382.0 C393.2,387.9 389.6,392.2 384.9,399.9 C380.2,407.6 374.6,418.6 370.0,428.4 C365.4,438.2 360.4,450.8 357.4,458.9 C354.4,467.0 354.6,469.1 352.1,477.3 C349.7,485.5 344.3,502.9 342.7,508.0" fill="none" stroke="#000" stroke-width="2.1"/>
<path d="M458.0,291.0 C455.8,292.4 451.8,294.1 444.7,299.7 C437.6,305.3 424.1,316.4 415.4,324.6 C406.7,332.8 399.4,340.9 392.7,349.1 C386.0,357.3 380.6,365.6 375.2,373.6 C369.8,381.6 365.2,388.4 360.5,397.0 C355.8,405.6 350.7,415.9 347.0,425.0 C343.3,434.1 341.5,443.2 338.5,451.5 C335.5,459.8 332.3,465.2 329.0,474.6 C325.7,484.0 320.2,502.4 318.5,508.0" fill="none" stroke="#000" stroke-width="2.3"/>
<path d="M460.5,291.0 C458.2,292.4 454.0,294.1 446.9,299.7 C439.8,305.3 426.2,316.4 417.6,324.6 C409.0,332.8 401.7,340.9 395.0,349.1 C388.3,357.3 382.9,365.6 377.5,373.6 C372.1,381.6 367.4,389.0 362.7,397.0 C358.0,405.0 352.8,413.3 349.3,421.5 C345.8,429.7 344.6,437.2 341.8,446.3 C339.0,455.4 335.4,465.8 332.4,476.1 C329.4,486.4 325.2,502.7 323.8,508.0" fill="none" stroke="#000" stroke-width="2.3"/>
<circle cx="460.1" cy="319.3" r="3.0" fill="#fff" stroke="#000" stroke-width="1.4"/><circle cx="413.5" cy="364.5" r="3.0" fill="#fff" stroke="#000" stroke-width="1.4"/><circle cx="384.9" cy="399.9" r="3.0" fill="#fff" stroke="#000" stroke-width="1.4"/><circle cx="370.0" cy="428.4" r="3.0" fill="#fff" stroke="#000" stroke-width="1.4"/><circle cx="357.4" cy="458.9" r="3.0" fill="#fff" stroke="#000" stroke-width="1.4"/><circle cx="352.1" cy="477.3" r="3.0" fill="#fff" stroke="#000" stroke-width="1.4"/>
<path d="M442.0,295.3L445.9,299.2L442.0,303.1L438.1,299.2Z" fill="#fff" stroke="#000" stroke-width="1.5"/><path d="M413.0,320.4L416.9,324.3L413.0,328.2L409.1,324.3Z" fill="#fff" stroke="#000" stroke-width="1.5"/><path d="M390.8,345.3L394.7,349.2L390.8,353.1L386.9,349.2Z" fill="#fff" stroke="#000" stroke-width="1.5"/><path d="M372.8,369.3L376.7,373.2L372.8,377.1L368.9,373.2Z" fill="#fff" stroke="#000" stroke-width="1.5"/><path d="M358.5,392.4L362.4,396.3L358.5,400.2L354.6,396.3Z" fill="#fff" stroke="#000" stroke-width="1.5"/><path d="M347.9,417.6L351.8,421.5L347.9,425.4L344.0,421.5Z" fill="#fff" stroke="#000" stroke-width="1.5"/><path d="M341.6,442.4L345.5,446.3L341.6,450.2L337.7,446.3Z" fill="#fff" stroke="#000" stroke-width="1.5"/><path d="M332.2,472.2L336.1,476.1L332.2,480.0L328.3,476.1Z" fill="#fff" stroke="#000" stroke-width="1.5"/>
<path d="M444.7,295.4L449.0,299.7L444.7,304.0L440.4,299.7Z" fill="#000" stroke="#fff" stroke-width="1.0"/><path d="M415.4,320.3L419.7,324.6L415.4,328.9L411.1,324.6Z" fill="#000" stroke="#fff" stroke-width="1.0"/><path d="M393.6,345.3L397.9,349.6L393.6,353.9L389.3,349.6Z" fill="#000" stroke="#fff" stroke-width="1.0"/><path d="M375.2,369.3L379.5,373.6L375.2,377.9L370.9,373.6Z" fill="#000" stroke="#fff" stroke-width="1.0"/><path d="M360.5,392.7L364.8,397.0L360.5,401.3L356.2,397.0Z" fill="#000" stroke="#fff" stroke-width="1.0"/><path d="M346.5,423.1L350.8,427.4L346.5,431.7L342.2,427.4Z" fill="#000" stroke="#fff" stroke-width="1.0"/><path d="M338.5,447.2L342.8,451.5L338.5,455.8L334.2,451.5Z" fill="#000" stroke="#fff" stroke-width="1.0"/><path d="M329.0,470.3L333.3,474.6L329.0,478.9L324.7,474.6Z" fill="#000" stroke="#fff" stroke-width="1.0"/>
<circle cx="312.9" cy="309.0" r="3.2" fill="#000"/><circle cx="310.1" cy="335.9" r="3.2" fill="#000"/><circle cx="306.6" cy="342.2" r="3.2" fill="#000"/><circle cx="303.8" cy="352.0" r="3.2" fill="#000"/><circle cx="302.8" cy="366.7" r="3.2" fill="#000"/><circle cx="300.7" cy="374.1" r="3.2" fill="#000"/><circle cx="299.0" cy="391.9" r="3.2" fill="#000"/><circle cx="296.5" cy="402.2" r="3.2" fill="#000"/><circle cx="294.4" cy="427.0" r="3.2" fill="#000"/><circle cx="293.3" cy="441.0" r="3.2" fill="#000"/><circle cx="293.3" cy="458.9" r="3.2" fill="#000"/><circle cx="292.3" cy="479.9" r="3.2" fill="#000"/><circle cx="290.2" cy="504.0" r="3.2" fill="#000"/>
<path d="M308.2,299.2L312.1,306.2L304.3,306.2Z" fill="#fff" stroke="#000" stroke-width="1.5" stroke-linejoin="miter"/><path d="M302.8,326.5L306.7,333.5L298.9,333.5Z" fill="#fff" stroke="#000" stroke-width="1.5" stroke-linejoin="miter"/><path d="M301.7,341.2L305.6,348.2L297.8,348.2Z" fill="#fff" stroke="#000" stroke-width="1.5" stroke-linejoin="miter"/><path d="M302.8,356.9L306.7,363.9L298.9,363.9Z" fill="#fff" stroke="#000" stroke-width="1.5" stroke-linejoin="miter"/><path d="M299.6,380.0L303.5,387.0L295.7,387.0Z" fill="#fff" stroke="#000" stroke-width="1.5" stroke-linejoin="miter"/><path d="M299.6,409.6L303.5,416.6L295.7,416.6Z" fill="#fff" stroke="#000" stroke-width="1.5" stroke-linejoin="miter"/><path d="M296.5,450.1L300.4,457.1L292.6,457.1Z" fill="#fff" stroke="#000" stroke-width="1.5" stroke-linejoin="miter"/>
<rect x="179.5" y="148.5" width="87" height="78" fill="#fff" stroke="#000" stroke-width="1.8"/>
<path d="M184,155.3H206" stroke="#000" stroke-width="2"/>
<circle cx="195.0" cy="155.3" r="3.4" fill="#fff" stroke="#000" stroke-width="1.4"/>
<text transform="translate(212.00,159.30) scale(0.96,1)" font-size="11.5" text-anchor="start" font-weight="bold" stroke="#000" stroke-width="0.3">Pd-23Ag</text>
<path d="M184,172.1H189.6M200,172.1H206" stroke="#000" stroke-width="2.1"/>
<circle cx="195.0" cy="172.1" r="3.7" fill="#000"/>
<text transform="translate(212.00,176.10) scale(0.96,1)" font-size="11.5" text-anchor="start" font-weight="bold" stroke="#000" stroke-width="0.3">Pure Pd</text>
<path d="M184,187.9H206" stroke="#000" stroke-width="2"/>
<path d="M195.0,183.5L199.4,187.9L195.0,192.3L190.6,187.9Z" fill="#fff" stroke="#000" stroke-width="1.6"/>
<text transform="translate(212.00,191.90) scale(0.96,1)" font-size="11.5" text-anchor="start" font-weight="bold" stroke="#000" stroke-width="0.3">Pd-5Ho</text>
<path d="M184,204H189.6M200,204H206" stroke="#000" stroke-width="2.1"/>
<path d="M195.0,199.4L199.6,204.0L195.0,208.6L190.4,204.0Z" fill="#000" stroke="#fff" stroke-width="1.0"/>
<text transform="translate(212.00,208.00) scale(0.96,1)" font-size="11.5" text-anchor="start" font-weight="bold" stroke="#000" stroke-width="0.3">Pd-5Y</text>
<path d="M184,219.3H206" stroke="#000" stroke-width="2"/>
<path d="M195.0,215.6L199.3,223.0L190.7,223.0Z" fill="#fff" stroke="#000" stroke-width="1.5" stroke-linejoin="miter"/>
<text transform="translate(212.00,223.30) scale(0.96,1)" font-size="11.5" text-anchor="start" font-weight="bold" stroke="#000" stroke-width="0.3">Pd-5Ni</text>
</svg></body></html>
